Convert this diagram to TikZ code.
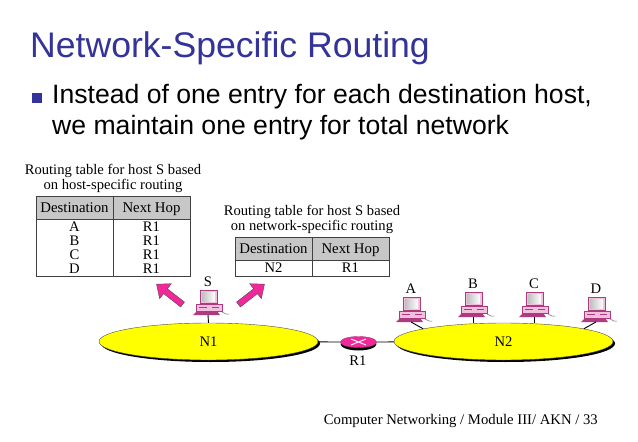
\documentclass[tikz,border=0pt]{standalone}
\usepackage{fontspec}
\setmainfont{Liberation Serif}
\newfontfamily\slidefont{Liberation Sans}
\usetikzlibrary{shapes.arrows,shapes.geometric,calc}
\definecolor{slideblue}{HTML}{333399}
\definecolor{hostpink}{HTML}{F0C0DC}
\definecolor{darkpink}{HTML}{B03A80}
\definecolor{arrowpink}{HTML}{F0289A}
\definecolor{netyellow}{RGB}{255,255,0}
\tikzset{
  lbl/.style={font=\fontsize{14.6}{14}\selectfont,inner sep=0pt},
  headcell/.style={draw=black!75,fill=black!22,line width=.8pt,minimum height=23pt,inner sep=0pt,
    text height=12pt,text depth=3pt,font=\fontsize{14.8}{14}\selectfont},
  net/.style={ellipse,draw=black!70,fill=netyellow,minimum width=219pt,minimum height=37pt,inner sep=0pt,font=\fontsize{14.6}{14}\selectfont},
  netshadow/.style={ellipse,fill=black,minimum width=219pt,minimum height=37pt,inner sep=0pt},
  fatarrow/.style={single arrow,draw=black!70,fill=arrowpink,minimum height=33pt,minimum width=19pt,
    single arrow head extend=3.5pt,single arrow tip angle=80,inner sep=1.5pt},
  pics/host/.style={code={
    \fill[darkpink] (-15,0) -- (-11,-4) -- (9,-4) -- (12,0) -- cycle;
    \fill[hostpink,draw=darkpink,line width=.5pt] (-12,-4) rectangle (14,-11);
    \draw[darkpink,line width=1pt] (-9,-8) -- (-1,-8) (4,-8) -- (11,-8);
    \fill[hostpink,draw=darkpink,line width=.8pt] (-8,-12) rectangle (9,-25);
    \fill[left color=black!25,right color=white] (-6,-23) rectangle (7,-14);
    \draw[black!55,line width=.5pt] (14,-3) -- (18,-1) -- (21,-1);
  }}
}
\begin{document}
\begin{tikzpicture}[x=1pt,y=-1pt]
\useasboundingbox (0,0) rectangle (638,442);
% slide text
\node[anchor=base west,inner sep=0pt,text=slideblue,font=\slidefont\fontsize{35.6}{36}\selectfont] (title) at (30,57) {Network-Specific Routing};
\fill[slideblue] (32,93) rectangle (42,103);
\node[anchor=base west,inner sep=0pt,font=\slidefont\fontsize{26.6}{27}\selectfont] (line1) at (52,103) {Instead of one entry for each destination host,};
\node[anchor=base west,inner sep=0pt,font=\slidefont\fontsize{26.6}{27}\selectfont] (line2) at (52,134) {we maintain one entry for total network};
\node[anchor=base east,inner sep=0pt,font=\fontsize{14.7}{15}\selectfont] (foot) at (598,424) {Computer Networking / Module III/ AKN / 33};
% host-specific table
\node[lbl,align=center] (capA) at (113,178) {Routing table for host S based\\[1pt]on host-specific routing};
\node[headcell,minimum width=77pt] (destA) at (74.5,207.5) {Destination};
\node[headcell,minimum width=77pt] (hopA) at (151.5,207.5) {Next Hop};
\draw[draw=black!75,line width=.8pt] (36,219) rectangle (190,276) (113,219) -- (113,276);
\foreach \name/\ypos in {A/227,B/241,C/255,D/269}{
  \node[lbl] (dest\name) at (74.5,\ypos) {\name};
  \node[lbl] (hop\name) at (151.5,\ypos) {R1};
}
% network-specific table
\node[lbl,align=center] (capB) at (312,219) {Routing table for host S based\\[1pt]on network-specific routing};
\node[headcell,minimum width=77pt] (destB) at (273.5,248.5) {Destination};
\node[headcell,minimum width=77pt] (hopB) at (350.5,248.5) {Next Hop};
\draw[draw=black!75,line width=.8pt] (235,260) rectangle (389,276) (312,260) -- (312,276);
\node[lbl] (destN) at (273.5,268) {N2};
\node[lbl] (hopN) at (350.5,268) {R1};
% arrows
\node[fatarrow,rotate=142] (arrowA) at (171,295.5) {};
\node[fatarrow,rotate=38] (arrowB) at (250,295.5) {};
% networks
\node[netshadow] at (210.5,343.5) {};
\node[net] (N1) at (208.5,341.5) {N1};
\node[netshadow] at (505.5,343.5) {};
\node[net] (N2) at (503.5,341.5) {N2};
% router
\coordinate (R1) at (358.5,342);
\draw[line width=.8pt] (N1) -- (R1) -- (N2);
\fill[black] (358.5,344) ellipse (18 and 6.5);
\fill[arrowpink,draw=darkpink,line width=.4pt] (R1) ellipse (18 and 5.5);
\draw[white,line width=1pt] (351,339) -- (366,345) (351,345) -- (366,339);
\node[lbl] (labR) at (358,361) {R1};
% hosts
\foreach \name/\xpos/\ypos in {S/208/315,A/411/322,B/473/317,C/534/317,D/596/322}{
  \coordinate (\name) at (\xpos,\ypos);
  \pic at (\name) {host};
  \node[lbl] (lab\name) at ($(\name)+(0,-33)$) {\name};
}
\draw[line width=.9pt] (S) -- (N1.north);
\draw[line width=.9pt] (A) -- (N2.171);
\draw[line width=.9pt] (B) -- (B |- N2.north);
\draw[line width=.9pt] (C) -- (C |- N2.north);
\draw[line width=.9pt] (D) -- (N2.9);
\end{tikzpicture}
\end{document}
